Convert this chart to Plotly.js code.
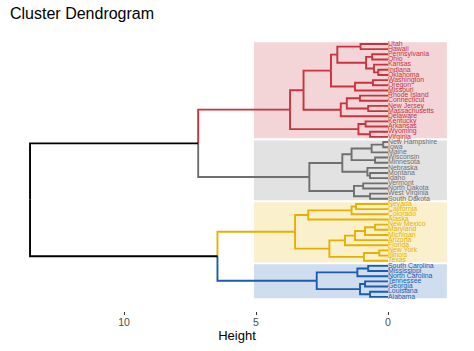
<!DOCTYPE html>
<html><head><meta charset="utf-8">
<script src="https://cdn.plot.ly/plotly-3.0.1.min.js"></script>
<style>html,body{margin:0;padding:0;background:#fff}</style>
</head><body><div id="chart" style="width:474px;height:351px"></div>
<script>
// Leaves, top to bottom
const leafLabels = ["Utah","Hawaii","Pennsylvania","Ohio","Kansas","Indiana","Oklahoma","Washington","Oregon","Missouri",
  "Rhode Island","Connecticut","New Jersey","Massachusetts","Delaware","Kentucky","Arkansas","Wyoming","Virginia",
  "New Hampshire","Iowa","Maine","Wisconsin","Minnesota","Nebraska","Montana","Idaho","Vermont","North Dakota","West Virginia","South Dakota",
  "Nevada","California","Colorado","Alaska","New Mexico","Maryland","Michigan","Arizona","Florida","New York","Illinois","Texas",
  "South Carolina","Mississippi","North Carolina","Tennessee","Georgia","Louisiana","Alabama"];
const clusterSizes = [19, 12, 12, 7];
const clusterColors = ["#C8333F", "#6F6F6F", "#E5B000", "#1A5DAE"];
const clusterFills = ["#F3D5D7", "#E2E2E2", "#FBF0CC", "#D0DDEE"];

// Merges: strings are leaves, numbers refer to earlier merges
const mergeA = ["Utah","Pennsylvania","Indiana","Kansas",1,0,"Washington",6,5,"Rhode Island","New Jersey",9,11,8,"Kentucky","Wyoming",14,13,
  "New Hampshire",18,"Wisconsin",19,"Montana","Nebraska",21,"Vermont","West Virginia",25,24,17,
  "Nevada",30,31,"New Mexico",33,34,35,"New York",37,36,32,
  "South Carolina",41,"Tennessee","Louisiana",43,42,40,29];
const mergeB = ["Hawaii","Ohio","Oklahoma",2,3,4,"Oregon","Missouri",7,"Connecticut","Massachusetts",10,"Delaware",12,"Arkansas","Virginia",15,16,
  "Iowa","Maine","Minnesota",20,"Idaho",22,23,"North Dakota","South Dakota",26,27,28,
  "California","Colorado","Alaska","Maryland","Michigan","Arizona","Florida","Illinois","Texas",38,39,
  "Mississippi","North Carolina","Georgia","Alabama",44,45,46,47];
const mergeHeight = [1.04,0.60,0.37,0.53,0.83,1.92,0.57,1.25,2.16,1.06,0.75,1.56,1.79,3.20,0.85,0.68,1.12,3.71,
  0.18,0.62,0.49,1.38,0.68,0.78,1.73,0.94,0.68,1.29,2.98,7.19,
  1.21,1.38,3.02,0.49,0.87,1.25,1.63,0.33,0.91,2.22,3.52,
  0.75,1.16,0.87,0.68,1.06,2.70,6.46,13.56];
const xTicks = [0, 5, 10];

// ---- build geometry ----
const leafCluster = [];
clusterSizes.forEach((n, c) => { for (let i = 0; i < n; i++) leafCluster.push(c); });
const nodes = []; // {h, y, c}
function node(ref) {
  if (typeof ref === "string") { const i = leafLabels.indexOf(ref); return {h: 0, y: i, c: leafCluster[i]}; }
  return nodes[ref];
}
const segs = {}; // color -> {x:[], y:[]}
function addSeg(col, xs, ys) {
  if (!segs[col]) segs[col] = {x: [], y: []};
  segs[col].x.push(...xs, null); segs[col].y.push(...ys, null);
}
for (let k = 0; k < mergeHeight.length; k++) {
  const a = node(mergeA[k]), b = node(mergeB[k]), h = mergeHeight[k];
  const y = (a.y + b.y) / 2;
  [a, b].forEach(ch => {
    const col = ch.c >= 0 ? clusterColors[ch.c] : "#000000";
    addSeg(col, [h, h, ch.h], [y, ch.y, ch.y]);
  });
  nodes.push({h: h, y: y, c: (a.c === b.c ? a.c : -1)});
}
const traces = Object.keys(segs).map(col => ({
  type: "scatter", mode: "lines", x: segs[col].x, y: segs[col].y,
  line: {color: col, width: 1.9}, hoverinfo: "skip", showlegend: false
}));
traces.push({
  type: "scatter", mode: "text", x: leafLabels.map(() => 0), y: leafLabels.map((_, i) => i),
  text: leafLabels, textposition: "middle right", cliponaxis: false,
  textfont: {family: "Liberation Sans, Arial, sans-serif", size: 6.9, color: leafCluster.map(c => clusterColors[c])},
  hoverinfo: "skip", showlegend: false
});
const shapes = [];
let start = 0;
clusterSizes.forEach((n, c) => {
  shapes.push({type: "rect", xref: "x", yref: "y", x0: 5.08, x1: -2.23, y0: start - 0.32, y1: start + n - 1 + 0.27,
    fillcolor: clusterFills[c], line: {width: 0}, layer: "below"});
  start += n;
});
const layout = {
  width: 474, height: 351, margin: {l: 5, r: 5, t: 28, b: 40},
  paper_bgcolor: "#fff", plot_bgcolor: "#fff", hovermode: false,
  font: {family: "Liberation Sans, Arial, sans-serif"},
  title: {text: "Cluster Dendrogram", x: 10/474, xref: "container", xanchor: "left", y: 1 - 13.3/351, yanchor: "middle",
    font: {size: 16, color: "#000"}},
  xaxis: {range: [14.508, -3.068], tickvals: xTicks, ticktext: xTicks.map(String), ticks: "outside", ticklen: 3, tickwidth: 1,
    tickcolor: "#333", showgrid: false, zeroline: false, showline: false, ticklabelstandoff: -2,
    tickfont: {size: 10.5, color: "#4D4D4D"}, title: {text: "Height", font: {size: 13, color: "#000"}, standoff: 3}},
  yaxis: {range: [51.74, -3.10], visible: false, showgrid: false, zeroline: false},
  shapes: shapes
};
Plotly.newPlot("chart", traces, layout, {displayModeBar: false, staticPlot: true});
</script></body></html>
